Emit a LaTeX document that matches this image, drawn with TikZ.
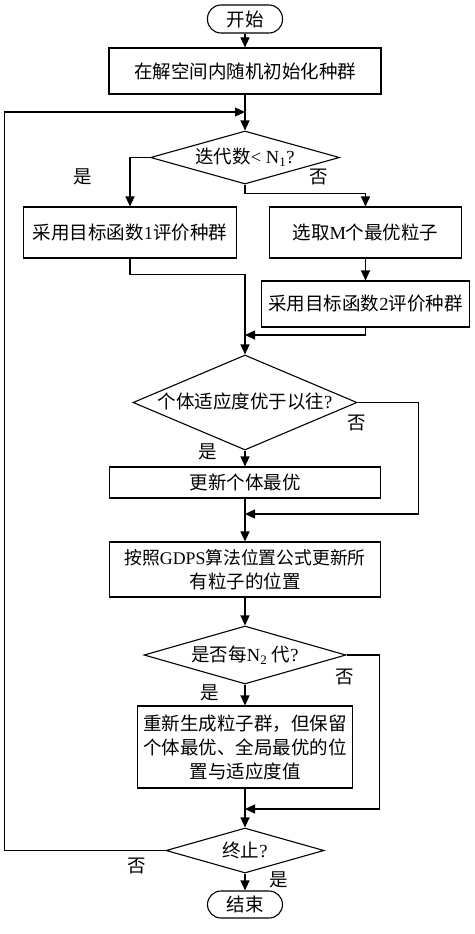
\documentclass[tikz,border=0pt]{standalone}
\usepackage{fontspec}
\setmainfont{Liberation Serif}
\newfontfamily\cjk{Noto Sans CJK SC}
\usetikzlibrary{arrows.meta,shapes.geometric}
\newcommand\lat[1]{{\rmfamily #1}}
\begin{document}
\begin{tikzpicture}[x=1pt,y=-1pt,
  every node/.style={font=\fontsize{18.5}{24}\selectfont\cjk},
  box/.style={draw,line width=1.1pt,inner sep=0pt,align=center},
  term/.style={draw,line width=1.1pt,inner sep=0pt,rounded corners=13.5pt,minimum width=75pt,minimum height=28pt},
  dia/.style={draw,diamond,line width=1.1pt,inner sep=0pt},
  txt/.style={inner sep=0pt,align=center},
  lbl/.style={inner sep=0pt},
  ln/.style={line width=1.1pt},
  arr/.style={line width=1.1pt,-{Triangle[length=10pt,width=9pt]}}
]
\useasboundingbox (0,0) rectangle (474,934);
% nodes
\node[term] (start) at (245,19) {开始};
\node[box,minimum width=272pt,minimum height=46pt] (init) at (245,71) {在解空间内随机初始化种群};
\node[dia,minimum width=189pt,minimum height=53pt] (d1) at (245,157.5) {};
\node[txt] (d1t) at (245,157) {迭代数\lat{< N\textsubscript{1}?}};
\node[box,minimum width=213pt,minimum height=51pt] (b1) at (130,232.5) {采用目标函数\lat{1}评价种群};
\node[box,minimum width=192pt,minimum height=51pt] (b2) at (365.5,232.5) {选取\lat{M}个最优粒子};
\node[box,minimum width=208pt,minimum height=46pt] (b3) at (365.5,304) {采用目标函数\lat{2}评价种群};
\node[dia,minimum width=224pt,minimum height=95pt] (d2) at (245,402.5) {};
\node[txt] (d2t) at (245,401) {个体适应度优于以往\lat{?}};
\node[box,minimum width=271pt,minimum height=31pt] (b4) at (245,482.5) {更新个体最优};
\node[box,minimum width=271pt,minimum height=55pt] (b5) at (245,569.5) {{\fontsize{17.8}{24}\selectfont 按照\lat{GDPS}算法位置公式更新所}\\有粒子的位置};
\node[dia,minimum width=202pt,minimum height=58pt] (d3) at (245,655) {};
\node[txt] (d3t) at (245,655) {是否每\lat{N\textsubscript{2} }代\lat{?}};
\node[box,minimum width=215pt,minimum height=82pt] (b6) at (245,747) {重新生成粒子群，但保留\\个体最优、全局最优的位\\置与适应度值};
\node[dia,minimum width=158pt,minimum height=45pt] (d4) at (245,850.5) {};
\node[txt] (d4t) at (245,850) {终止\lat{?}};
\node[term,minimum height=27pt] (end) at (245,904.5) {结束};
% merge points
\coordinate (m1) at (245,112);
\coordinate (m2) at (245,335);
\coordinate (m3) at (245,514);
\coordinate (m4) at (245,809);
\coordinate (lp) at (4.5,112);
% labels
\node[lbl] (y1) at (83,177) {是};
\node[lbl] (n1) at (319,177) {否};
\node[lbl] (n2) at (357,423) {否};
\node[lbl] (y2) at (208,452) {是};
\node[lbl] (n3) at (345,677) {否};
\node[lbl] (y3) at (210,693) {是};
\node[lbl] (n4) at (137,866) {否};
\node[lbl] (y4) at (279,880) {是};
% connectors
\draw[arr] (start) -- (init);
\draw[arr] (init) -- (d1);
\draw[arr] (d4.west) -- (d4.west -| lp) -- (lp) -- (m1);
\draw[arr] (d1.west) -| (b1.north);
\draw[arr] (d1.south) -- ++(0,9) -| (b2.north);
\draw[arr] (b2) -- (b3);
\draw[arr] (b1.south) -- ++(0,16) -| (d2.north);
\draw[arr] (b3.south) |- (m2);
\draw[arr] (d2.east) -- ++(61,0) |- (m3);
\draw[arr] (d2) -- (b4);
\draw[arr] (b4) -- (b5);
\draw[arr] (b5) -- (d3);
\draw[arr] (d3.east) -- ++(33,0) |- (m4);
\draw[arr] (d3) -- (b6);
\draw[arr] (b6) -- (d4);
\draw[arr] (d4) -- (end);
\end{tikzpicture}
\end{document}
